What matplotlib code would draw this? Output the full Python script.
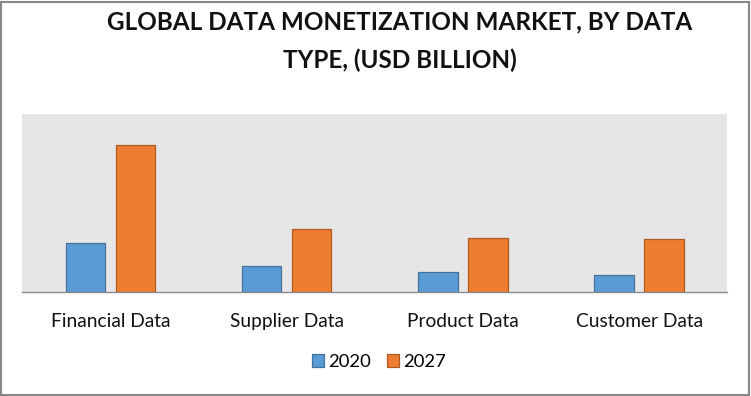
import matplotlib
matplotlib.use("Agg")
import matplotlib.pyplot as plt
from matplotlib.patches import Rectangle
import numpy as np

categories = ["Financial Data", "Supplier Data", "Product Data", "Customer Data"]
years = ["2020", "2027"]
values_2020 = [0.98, 0.53, 0.40, 0.34]
values_2027 = [2.95, 1.26, 1.09, 1.07]

W, H = 751, 396
fig = plt.figure(figsize=(W / 100, H / 100), dpi=100)
fig.patch.set_facecolor("white")

# outer border
fig.add_artist(Rectangle((0.5 / W, 1.5 / H), (W - 2.5) / W, (H - 3) / H,
                         transform=fig.transFigure, fill=False,
                         edgecolor="#878787", linewidth=1.5))

ax = fig.add_axes([22.3 / W, (H - 292.3) / H, 705 / W, 178.3 / H])
ax.set_facecolor("#E7E6E6")
x = np.arange(len(categories))
bw = 0.224
off = 0.142
ax.bar(x - off, values_2020, bw, color="#5B9BD5", edgecolor="#41719C",
       linewidth=0.9, label=years[0], zorder=3)
ax.bar(x + off, values_2027, bw, color="#ED7D31", edgecolor="#AE5A21",
       linewidth=0.9, label=years[1], zorder=3)
ax.set_xlim(-0.5, len(categories) - 0.5)
ax.set_ylim(0, 3.566)
ax.set_yticks([])
for s in ["top", "left", "right"]:
    ax.spines[s].set_visible(False)
ax.spines["bottom"].set_color("#898989")
ax.spines["bottom"].set_linewidth(1.0)
ax.spines["bottom"].set_zorder(4)
ax.set_xticks(x)
ax.set_xticklabels(categories, fontsize=13.8, family=["Lato", "DejaVu Sans"],
                   color="#111111")
ax.tick_params(axis="x", length=0, pad=15)

fig.text(400 / W, 1 - 22 / H, "GLOBAL DATA MONETIZATION MARKET, BY DATA",
         ha="center", va="center", fontsize=17.5, fontweight="bold",
         family=["Lato", "DejaVu Sans"], color="#111111")
fig.text(400 / W, 1 - 60 / H, "TYPE, (USD BILLION)",
         ha="center", va="center", fontsize=17.5, fontweight="bold",
         family=["Lato", "DejaVu Sans"], color="#111111")

leg = fig.legend(loc="center", bbox_to_anchor=(379 / W, 1 - 362 / H),
                 ncol=2, frameon=False,
                 prop={"family": ["Lato", "DejaVu Sans"], "size": 13.3},
                 handlelength=0.65, handleheight=0.65, handletextpad=0.2,
                 columnspacing=0.9)

fig.savefig("out.png", dpi=100)
